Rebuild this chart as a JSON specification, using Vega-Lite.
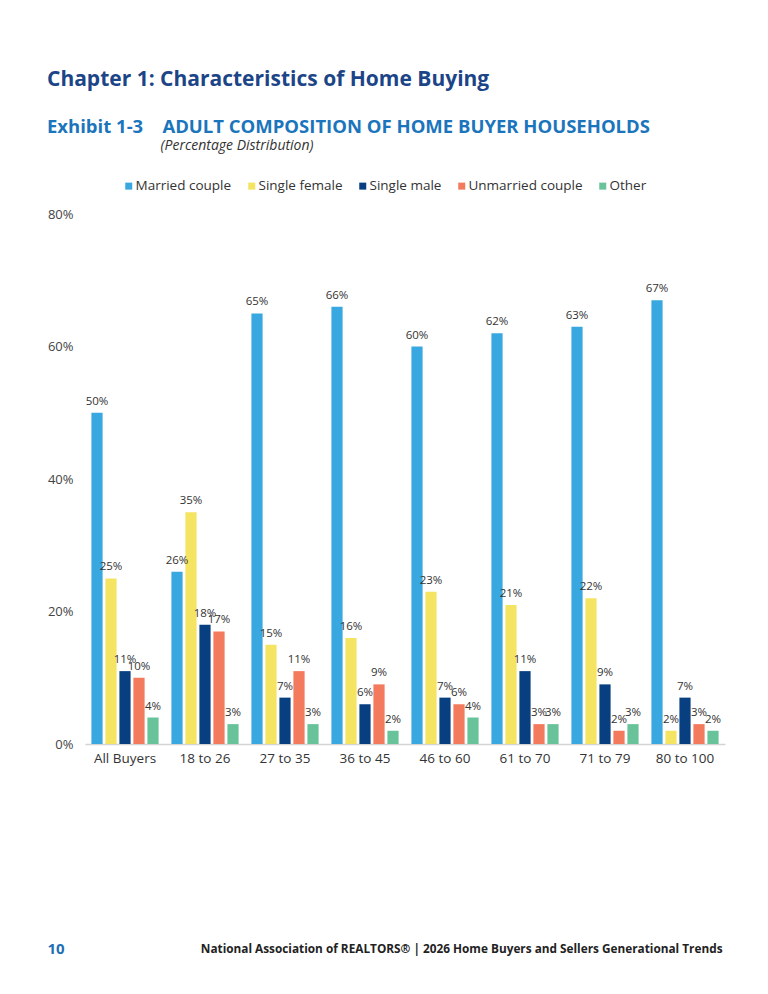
{
  "$schema": "https://vega.github.io/schema/vega-lite/v6.json",
  "width": 640,
  "height": 530,
  "autosize": {"type": "none"},
  "padding": {"left": 85, "top": 214, "right": 43, "bottom": 250},
  "background": "white",
  "title": {
    "text": "Chapter 1: Characteristics of Home Buying",
    "subtitle": "Exhibit 1-3\u00a0\u00a0\u00a0\u00a0ADULT COMPOSITION OF HOME BUYER HOUSEHOLDS",
    "anchor": "start",
    "frame": "group",
    "dx": -38,
    "offset": 2,
    "font": "Open Sans",
    "fontSize": 21,
    "fontWeight": "bold",
    "color": "#1c4587",
    "subtitleFont": "Open Sans",
    "subtitleFontSize": 18.5,
    "subtitleFontWeight": "bold",
    "subtitleColor": "#1b75bc",
    "subtitlePadding": 28
  },
  "data": {
    "values": [
      {"group": "All Buyers", "series": "Married couple", "value": 0.50},
      {"group": "All Buyers", "series": "Single female", "value": 0.25},
      {"group": "All Buyers", "series": "Single male", "value": 0.11},
      {"group": "All Buyers", "series": "Unmarried couple", "value": 0.10},
      {"group": "All Buyers", "series": "Other", "value": 0.04},
      {"group": "18 to 26", "series": "Married couple", "value": 0.26},
      {"group": "18 to 26", "series": "Single female", "value": 0.35},
      {"group": "18 to 26", "series": "Single male", "value": 0.18},
      {"group": "18 to 26", "series": "Unmarried couple", "value": 0.17},
      {"group": "18 to 26", "series": "Other", "value": 0.03},
      {"group": "27 to 35", "series": "Married couple", "value": 0.65},
      {"group": "27 to 35", "series": "Single female", "value": 0.15},
      {"group": "27 to 35", "series": "Single male", "value": 0.07},
      {"group": "27 to 35", "series": "Unmarried couple", "value": 0.11},
      {"group": "27 to 35", "series": "Other", "value": 0.03},
      {"group": "36 to 45", "series": "Married couple", "value": 0.66},
      {"group": "36 to 45", "series": "Single female", "value": 0.16},
      {"group": "36 to 45", "series": "Single male", "value": 0.06},
      {"group": "36 to 45", "series": "Unmarried couple", "value": 0.09},
      {"group": "36 to 45", "series": "Other", "value": 0.02},
      {"group": "46 to 60", "series": "Married couple", "value": 0.60},
      {"group": "46 to 60", "series": "Single female", "value": 0.23},
      {"group": "46 to 60", "series": "Single male", "value": 0.07},
      {"group": "46 to 60", "series": "Unmarried couple", "value": 0.06},
      {"group": "46 to 60", "series": "Other", "value": 0.04},
      {"group": "61 to 70", "series": "Married couple", "value": 0.62},
      {"group": "61 to 70", "series": "Single female", "value": 0.21},
      {"group": "61 to 70", "series": "Single male", "value": 0.11},
      {"group": "61 to 70", "series": "Unmarried couple", "value": 0.03},
      {"group": "61 to 70", "series": "Other", "value": 0.03},
      {"group": "71 to 79", "series": "Married couple", "value": 0.63},
      {"group": "71 to 79", "series": "Single female", "value": 0.22},
      {"group": "71 to 79", "series": "Single male", "value": 0.09},
      {"group": "71 to 79", "series": "Unmarried couple", "value": 0.02},
      {"group": "71 to 79", "series": "Other", "value": 0.03},
      {"group": "80 to 100", "series": "Married couple", "value": 0.67},
      {"group": "80 to 100", "series": "Single female", "value": 0.02},
      {"group": "80 to 100", "series": "Single male", "value": 0.07},
      {"group": "80 to 100", "series": "Unmarried couple", "value": 0.03},
      {"group": "80 to 100", "series": "Other", "value": 0.02}
    ]
  },
  "encoding": {
    "x": {
      "field": "group",
      "type": "nominal",
      "sort": null,
      "scale": {"paddingInner": 0.16, "paddingOuter": 0.08},
      "axis": {
        "labelAngle": 0,
        "domain": true,
        "domainColor": "#d4d4d4",
        "domainWidth": 1.5,
        "ticks": false,
        "labelPadding": 7,
        "labelFontSize": 13.5,
        "labelColor": "#333333",
        "title": "National Association of REALTORS\u00ae | 2026 Home Buyers and Sellers Generational Trends",
        "titleFontSize": 11.8,
        "titleFontWeight": "bold",
        "titleColor": "#222222",
        "titleX": 637,
        "titleY": 208,
        "titleAlign": "right",
        "titleBaseline": "alphabetic"
      }
    },
    "xOffset": {
      "field": "series",
      "type": "nominal",
      "sort": ["Married couple", "Single female", "Single male", "Unmarried couple", "Other"],
      "scale": {"paddingInner": 0.2, "paddingOuter": 0}
    },
    "y": {
      "field": "value",
      "type": "quantitative",
      "scale": {"domain": [0, 0.8], "nice": false}
    }
  },
  "layer": [
    {
      "mark": {"type": "bar"},
      "encoding": {
        "y": {
          "field": "value",
          "type": "quantitative",
          "axis": {
            "orient": "left",
            "domain": false,
            "ticks": false,
            "grid": false,
            "values": [0, 0.2, 0.4, 0.6, 0.8],
            "format": ".0%",
            "labelPadding": 12,
            "labelFontSize": 13,
            "labelColor": "#444444",
            "title": "(Percentage Distribution)",
            "titleFontStyle": "italic",
            "titleFontWeight": "normal",
            "titleFontSize": 14,
            "titleColor": "#333333",
            "titleAngle": 0,
            "titleX": 75,
            "titleY": -65,
            "titleAlign": "left",
            "titleBaseline": "alphabetic"
          }
        },
        "color": {
          "field": "series",
          "type": "nominal",
          "sort": ["Married couple", "Single female", "Single male", "Unmarried couple", "Other"],
          "scale": {
            "domain": ["Married couple", "Single female", "Single male", "Unmarried couple", "Other"],
            "range": ["#3aa8e0", "#f4e462", "#073f80", "#f37a5d", "#68c39a"]
          },
          "legend": {
            "orient": "none",
            "legendX": 37,
            "legendY": -35,
            "direction": "horizontal",
            "columns": 5,
            "title": null,
            "symbolType": "square",
            "symbolSize": 49,
            "symbolStrokeWidth": 0,
            "labelFontSize": 13.5,
            "labelColor": "#333333",
            "labelOffset": 0,
            "columnPadding": 13
          }
        }
      }
    },
    {
      "mark": {"type": "text", "baseline": "bottom", "dy": -6, "fontSize": 11.5, "color": "#333333"},
      "encoding": {
        "y": {
          "field": "value",
          "type": "quantitative",
          "axis": {
            "orient": "right",
            "labels": false,
            "domain": false,
            "ticks": false,
            "grid": false,
            "title": "10",
            "titleFontSize": 15,
            "titleFontWeight": "bold",
            "titleColor": "#1f6fb5",
            "titleAngle": 0,
            "titleX": -678,
            "titleY": 739,
            "titleAlign": "left",
            "titleBaseline": "alphabetic"
          }
        },
        "text": {"field": "value", "type": "quantitative", "format": ".0%"}
      }
    }
  ],
  "resolve": {"axis": {"y": "independent"}},
  "config": {
    "view": {"stroke": null},
    "font": "Open Sans"
  }
}
